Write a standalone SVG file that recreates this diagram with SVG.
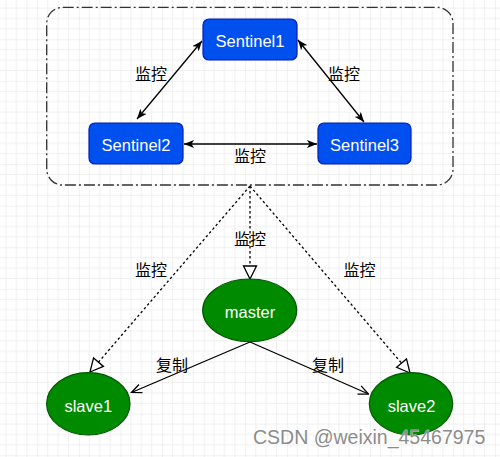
<svg xmlns="http://www.w3.org/2000/svg" width="500" height="457" viewBox="0 0 500 457">
  <defs>
    <pattern id="grid" x="-4.3" y="-2.3" width="41.6" height="41.6" patternUnits="userSpaceOnUse">
      <path d="M10.4,0V41.6M20.8,0V41.6M31.2,0V41.6M0,10.4H41.6M0,20.8H41.6M0,31.2H41.6" stroke="#f0f0f0" stroke-width="1" fill="none"/>
      <path d="M0,0V41.6M0,0H41.6" stroke="#e2e2e2" stroke-width="1" fill="none"/>
    </pattern>
    <marker id="classic" viewBox="0 0 10 8" refX="10" refY="4" markerWidth="10" markerHeight="8" markerUnits="userSpaceOnUse" orient="auto-start-reverse">
      <path d="M0,0 L10,4 L0,8 L2.5,4 Z" fill="#000"/>
    </marker>
    <marker id="open" viewBox="0 0 12 12" refX="11" refY="6" markerWidth="12" markerHeight="12" markerUnits="userSpaceOnUse" orient="auto">
      <path d="M1,1.5 L11,6 L1,10.5" fill="none" stroke="#000" stroke-width="1.3"/>
    </marker>
    <marker id="block" viewBox="0 0 16 16" refX="15" refY="8" markerWidth="16" markerHeight="16" markerUnits="userSpaceOnUse" orient="auto">
      <path d="M2,1.5 L15,8 L2,14.5 Z" fill="#fff" stroke="#000" stroke-width="1.3"/>
    </marker>
  </defs>
  <style>
    .sent rect { fill: #0050EF; stroke: #001DBC; stroke-width: 1.2; }
    .redis ellipse { fill: #008A00; stroke: #005700; stroke-width: 1.2; }
    .nt { font-family: "Liberation Sans", Arial, sans-serif; font-size: 16.5px; fill: #fff; text-anchor: middle; }
    .lbl { font-family: "Noto Sans CJK SC", "Liberation Sans", sans-serif; font-size: 16px; fill: #000; text-anchor: middle; }
    .edge { fill: none; stroke: #000; stroke-width: 1.3; }
    .dot { stroke-dasharray: 2.5 2.5; }
    .mark { font-family: "Liberation Sans", Arial, sans-serif; font-size: 19.5px; fill: #8c8c8c; stroke: #fff; stroke-width: 0.6; paint-order: stroke; }
  </style>
  <rect width="500" height="457" fill="#fff"/>
  <rect width="500" height="457" fill="url(#grid)"/>

  <g id="sentinel-group">
    <rect x="46.7" y="7.3" width="406.3" height="177.7" rx="16" fill="none" stroke="#333" stroke-width="1.3" stroke-dasharray="11 3 2 3"/>
  </g>

  <g id="connectors">
    <path class="edge" d="M202,41 L137,119" marker-start="url(#classic)" marker-end="url(#classic)"/>
    <path class="edge" d="M298,40 L364,122" marker-start="url(#classic)" marker-end="url(#classic)"/>
    <path class="edge" d="M184,144 L317,144" marker-start="url(#classic)" marker-end="url(#classic)"/>
    <path class="edge dot" d="M250,186 L250,279" marker-end="url(#block)"/>
    <path class="edge dot" d="M250,186 L90,372" marker-end="url(#block)"/>
    <path class="edge dot" d="M250,186 L410,373" marker-end="url(#block)"/>
    <path class="edge" d="M250,342 L131.5,392.5" marker-end="url(#open)"/>
    <path class="edge" d="M250,342 L368.5,394" marker-end="url(#open)"/>
    <text class="lbl" x="151" y="79.5">监控</text>
    <text class="lbl" x="344" y="79.5">监控</text>
    <text class="lbl" x="250" y="161.5">监控</text>
    <text class="lbl" x="250" y="245">监控</text>
    <text class="lbl" x="151" y="275.5">监控</text>
    <text class="lbl" x="359.5" y="275.5">监控</text>
    <text class="lbl" x="172" y="370.5">复制</text>
    <text class="lbl" x="328" y="370.5">复制</text>
  </g>

  <g id="sentinel1" class="sent">
    <rect x="203" y="19" width="94" height="41" rx="6"/>
    <text class="nt" x="250" y="46.5">Sentinel1</text>
  </g>
  <g id="sentinel2" class="sent">
    <rect x="89" y="123" width="94" height="41" rx="6"/>
    <text class="nt" x="136" y="150.5">Sentinel2</text>
  </g>
  <g id="sentinel3" class="sent">
    <rect x="318" y="123" width="93" height="41" rx="6"/>
    <text class="nt" x="364.5" y="150.5">Sentinel3</text>
  </g>

  <g id="master" class="redis">
    <ellipse cx="249.7" cy="310.3" rx="47" ry="31.3"/>
    <text class="nt" x="250" y="317.5">master</text>
  </g>
  <g id="slave1" class="redis">
    <ellipse cx="88.3" cy="403.8" rx="41.7" ry="31.2"/>
    <text class="nt" x="88.3" y="411.5">slave1</text>
  </g>
  <g id="slave2" class="redis">
    <ellipse cx="411" cy="403.8" rx="41.7" ry="31.2"/>
    <text class="nt" x="411.5" y="411.5">slave2</text>
  </g>

  <text class="mark" x="253" y="444">CSDN @weixin_45467975</text>
</svg>
